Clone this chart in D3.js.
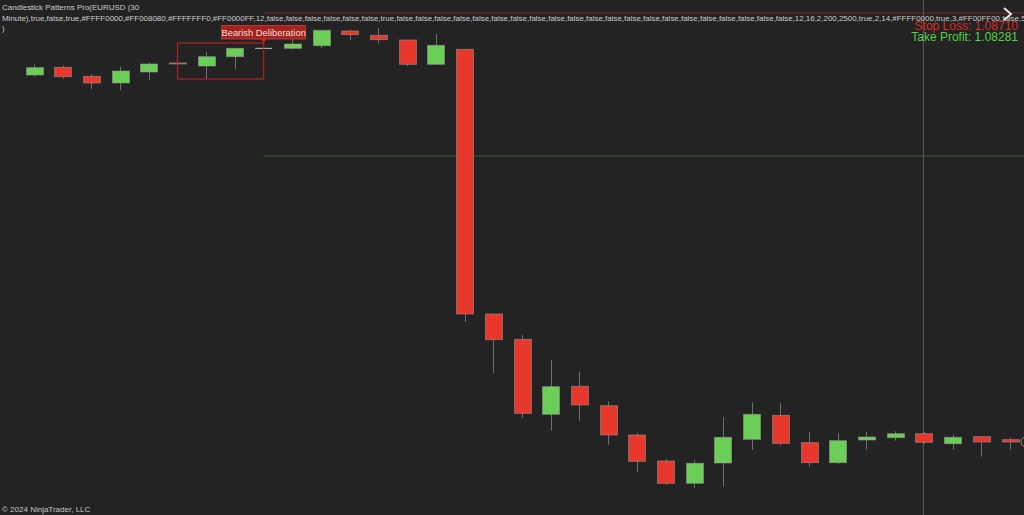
<!DOCTYPE html>
<html>
<head>
<meta charset="utf-8">
<script src="https://cdn.jsdelivr.net/npm/d3@7"></script>
<style>
    body { margin: 0; background: #232323; overflow: hidden; }
    svg { display: block; font-family: Arial, "Liberation Sans", sans-serif; }
</style>
</head>
<body>
<svg id="chart"></svg>
<script>
// EURUSD 30 minute bars
var opens  = [1.08524, 1.08547, 1.08520, 1.08500, 1.08533, 1.08560, 1.08551, 1.08579, 1.08604, 1.08604,
              1.08612, 1.08656, 1.08643, 1.08629, 1.08556, 1.08601, 1.07807, 1.07731, 1.07506, 1.07590,
              1.07532, 1.07444, 1.07366, 1.07299, 1.07360, 1.07431, 1.07503, 1.07421, 1.07361, 1.07429,
              1.07436, 1.07448, 1.07418, 1.07439, 1.07430];
var highs  = [1.08556, 1.08552, 1.08527, 1.08548, 1.08562, 1.08560, 1.08593, 1.08604, 1.08604, 1.08637,
              1.08658, 1.08661, 1.08665, 1.08629, 1.08647, 1.08601, 1.07809, 1.07744, 1.07669, 1.07634,
              1.07545, 1.07451, 1.07372, 1.07369, 1.07497, 1.07541, 1.07540, 1.07453, 1.07449, 1.07453,
              1.07455, 1.07453, 1.07445, 1.07441, 1.07437];
var lows   = [1.08519, 1.08513, 1.08481, 1.08478, 1.08509, 1.08559, 1.08513, 1.08541, 1.08604, 1.08601,
              1.08604, 1.08629, 1.08619, 1.08551, 1.08554, 1.07783, 1.07630, 1.07495, 1.07457, 1.07487,
              1.07415, 1.07333, 1.07294, 1.07285, 1.07289, 1.07399, 1.07412, 1.07349, 1.07356, 1.07400,
              1.07427, 1.07417, 1.07400, 1.07379, 1.07400];
var closes = [1.08546, 1.08519, 1.08500, 1.08536, 1.08557, 1.08559, 1.08579, 1.08604, 1.08604, 1.08617,
              1.08658, 1.08645, 1.08630, 1.08556, 1.08613, 1.07807, 1.07730, 1.07509, 1.07589, 1.07534,
              1.07444, 1.07365, 1.07299, 1.07359, 1.07437, 1.07506, 1.07419, 1.07361, 1.07427, 1.07438,
              1.07448, 1.07422, 1.07437, 1.07423, 1.07423];

var STOP_LOSS = 1.08710;
var TAKE_PROFIT = 1.08281;

// detected pattern: first bar, last bar, price box
var pattern_bars = [5, 8];
var pattern_prices = [1.08620, 1.08512];
var pattern_name = 'Bearish Deliberation';

var title_lines = [
    'Candlestick Patterns Pro(EURUSD (30',
    'Minute),true,false,true,#FFFF0000,#FF008080,#FFFFFFF0,#FF0000FF,12,false,false,false,false,false,false,true,false,false,false,false,false,false,false,false,false,false,false,false,false,false,false,false,false,false,false,false,false,12,16,2,200,2500,true,2,14,#FFFF0000,true,3,#FF00FF00,false,5',
    ')'
];

var width = 1024, height = 515;
var BAR_WIDTH = 17;
var GREEN = '#6bcf57', RED = '#e8372b';

var svg = d3.select('#chart').attr('width', width).attr('height', height);

svg.append('rect').attr('width', width).attr('height', height).attr('fill', '#232323');

var bars = d3.range(opens.length);

var x = d3.scaleLinear().domain([0, bars.length - 1]).range([34, 1010]);
var y = d3.scaleLinear().domain([1.07204, 1.08749]).range([height, 0]);

// crosshair
svg.append('line')
    .attr('x1', x(31) - 0.5).attr('x2', x(31) - 0.5)
    .attr('y1', 0).attr('y2', height)
    .attr('stroke', '#5c5c5c').attr('stroke-width', 1);

// stop loss / take profit lines start at the signal bar
svg.append('line')
    .attr('x1', x(pattern_bars[1])).attr('x2', width)
    .attr('y1', y(STOP_LOSS)).attr('y2', y(STOP_LOSS))
    .attr('stroke', '#7a2626').attr('stroke-width', 1);
svg.append('line')
    .attr('x1', x(pattern_bars[1])).attr('x2', width)
    .attr('y1', y(TAKE_PROFIT)).attr('y2', y(TAKE_PROFIT))
    .attr('stroke', '#3b6334').attr('stroke-width', 1);

// candles
var candles = svg.append('g').selectAll('g')
    .data(bars)
    .enter().append('g');

candles.append('line')
    .attr('x1', function(i) { return Math.round(x(i)) + 0.5; })
    .attr('x2', function(i) { return Math.round(x(i)) + 0.5; })
    .attr('y1', function(i) { return y(highs[i]); })
    .attr('y2', function(i) { return y(lows[i]); })
    .attr('stroke', '#707070').attr('stroke-width', 1);

candles.filter(function(i) { return opens[i] !== closes[i]; })
    .append('rect')
    .attr('x', function(i) { return Math.round(x(i) - BAR_WIDTH / 2) + 0.5; })
    .attr('width', BAR_WIDTH)
    .attr('y', function(i) { return y(Math.max(opens[i], closes[i])); })
    .attr('height', function(i) { return Math.max(1, Math.abs(y(opens[i]) - y(closes[i]))); })
    .attr('fill', function(i) { return closes[i] > opens[i] ? GREEN : RED; })
    .attr('stroke', '#9a9a9a').attr('stroke-opacity', 0.55).attr('stroke-width', 1);

// doji: just a line
candles.filter(function(i) { return opens[i] === closes[i]; })
    .append('line')
    .attr('x1', function(i) { return x(i) - BAR_WIDTH / 2; })
    .attr('x2', function(i) { return x(i) + BAR_WIDTH / 2; })
    .attr('y1', function(i) { return y(opens[i]); })
    .attr('y2', function(i) { return y(opens[i]); })
    .attr('stroke', '#c4c4c4').attr('stroke-width', 1);

// pattern box + label
svg.append('rect')
    .attr('x', x(pattern_bars[0]))
    .attr('y', y(pattern_prices[0]))
    .attr('width', x(pattern_bars[1]) - x(pattern_bars[0]))
    .attr('height', y(pattern_prices[1]) - y(pattern_prices[0]))
    .attr('fill', 'none').attr('stroke', '#b3241f').attr('stroke-width', 1.2);

var lx = x(pattern_bars[1]), ly = y(pattern_prices[0]);
svg.append('path')
    .attr('d', 'M' + (lx - 3.5) + ',' + (ly - 4.5) + 'L' + (lx + 3.5) + ',' + (ly - 4.5) + 'L' + lx + ',' + ly + 'Z')
    .attr('fill', '#c0241d');
svg.append('rect')
    .attr('x', lx - 42).attr('y', ly - 17.5)
    .attr('width', 84).attr('height', 13.5)
    .attr('fill', '#a6231d').attr('stroke', '#c8433c').attr('stroke-width', 0.8);
svg.append('text')
    .attr('x', lx).attr('y', ly - 7.5)
    .attr('text-anchor', 'middle')
    .attr('font-size', 9.4)
    .attr('fill', '#f2dede')
    .text(pattern_name);

// indicator title
svg.append('g').selectAll('text')
    .data(title_lines)
    .enter().append('text')
    .attr('x', 2)
    .attr('y', function(d, i) { return 10 + i * 10.5; })
    .attr('font-size', 7.95)
    .attr('fill', '#cccccc')
    .text(function(d) { return d; });

// SL / TP readout
svg.append('text')
    .attr('x', 1018).attr('y', 29.5)
    .attr('text-anchor', 'end').attr('font-size', 12)
    .attr('fill', '#dd2b26')
    .text('Stop Loss: ' + STOP_LOSS.toFixed(5));
svg.append('text')
    .attr('x', 1018).attr('y', 40.5)
    .attr('text-anchor', 'end').attr('font-size', 12)
    .attr('fill', '#56d048')
    .text('Take Profit: ' + TAKE_PROFIT.toFixed(5));

// scroll arrow top right
svg.append('path')
    .attr('d', 'M1004,8 L1011,14 L1004,20')
    .attr('fill', 'none').attr('stroke', '#e6e6e6').attr('stroke-width', 2);

// last price marker at the right edge
svg.append('circle')
    .attr('cx', width + 2).attr('cy', y(closes[closes.length - 1]))
    .attr('r', 5)
    .attr('fill', 'none').attr('stroke', '#8a8a8a').attr('stroke-width', 1);

svg.append('text')
    .attr('x', 2).attr('y', 512)
    .attr('font-size', 8)
    .attr('fill', '#c8c8c8')
    .text('\u00a9 2024 NinjaTrader, LLC');
</script>
</body>
</html>
